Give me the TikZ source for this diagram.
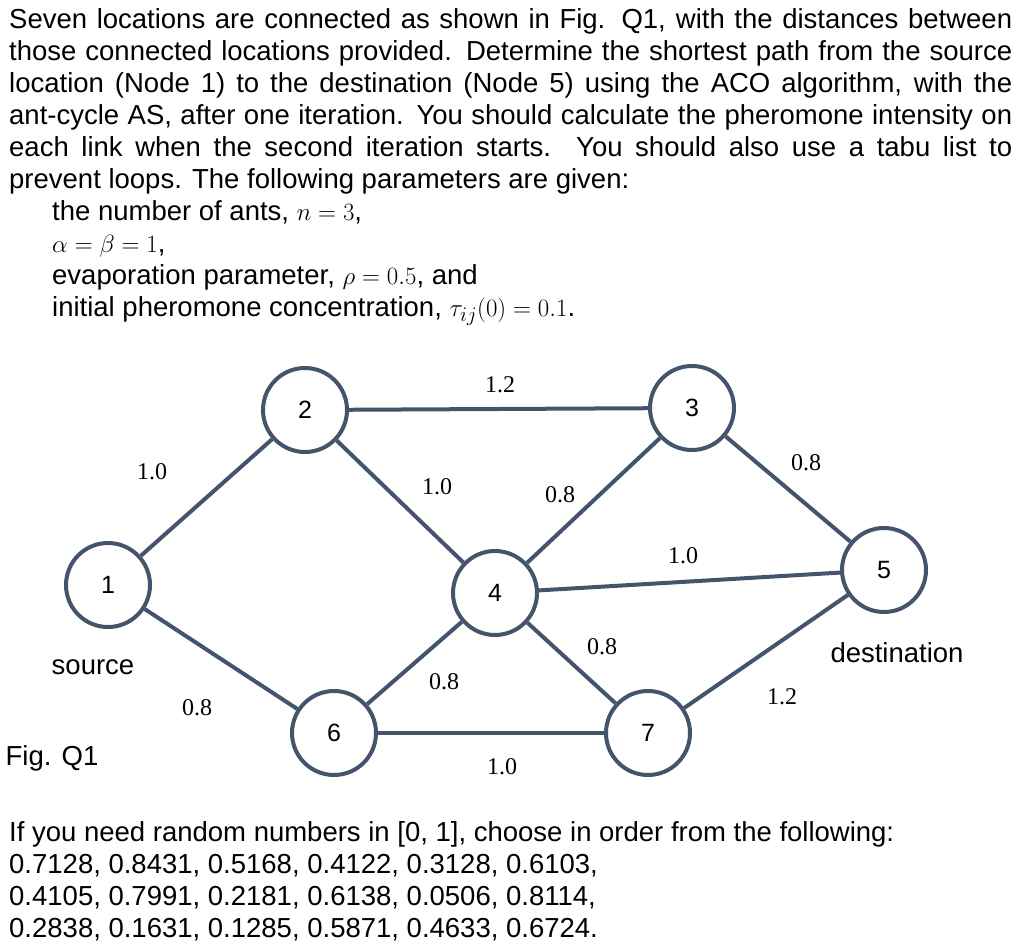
\documentclass[tikz,border=0pt]{standalone}
\usepackage{fontspec}
\setmainfont{Liberation Sans}
\newfontfamily\tnr{Liberation Serif}
\definecolor{edge}{HTML}{44546A}
\begin{document}
\begin{tikzpicture}[x=1pt,y=1pt,
  nd/.style={circle,draw=edge,line width=4pt,minimum size=84pt,inner sep=0pt,fill=white,font=\fontsize{25}{28}\selectfont},
  ln/.style={draw=edge,line width=4pt},
  lab/.style={font=\tnr\fontsize{24}{28}\selectfont,inner sep=0pt},
  txt/.style={font=\fontsize{27.5}{32}\selectfont,inner sep=0pt}]
\useasboundingbox (0,0) rectangle (1024,951);
\node[txt,anchor=north west,text width=1003pt,align=justify] (p) at (9,943) {Seven locations are connected as shown in Fig. Q1, with the distances between\linebreak those connected locations provided. Determine the shortest path from the source\linebreak location (Node 1) to the destination (Node 5) using the ACO algorithm, with the\linebreak ant-cycle AS, after one iteration. You should calculate the pheromone intensity on\linebreak each link when the second iteration starts. You should also use a tabu list to\linebreak prevent loops. The following parameters are given:};
\node[txt,anchor=north west,align=left] (q) at (52,751) {the number of ants, $n=3$,\\ $\alpha=\beta=1$,\\ evaporation parameter, $\rho=0.5$, and\\ initial pheromone concentration, $\tau_{ij}(0)=0.1$.};
\node[nd] (n1) at (108,366) {1};
\node[nd] (n2) at (305,541) {2};
\node[nd] (n3) at (692,543) {3};
\node[nd] (n4) at (495,358) {4};
\node[nd] (n5) at (884,381) {5};
\node[nd] (n6) at (334,218) {6};
\node[nd] (n7) at (648,218) {7};
\draw[ln] (n1) -- (n2);
\draw[ln] (n1) -- (n6);
\draw[ln] (n2) -- (n3);
\draw[ln] (n2) -- (n4);
\draw[ln] (n4) -- (n3);
\draw[ln] (n3) -- (n5);
\draw[ln] (n4) -- (n5);
\draw[ln] (n4) -- (n7);
\draw[ln] (n6) -- (n4);
\draw[ln] (n6) -- (n7);
\draw[ln] (n7) -- (n5);
\node[lab] (l12) at (500,566) {1.2};
\node[lab] (l21) at (152,479) {1.0};
\node[lab] (l24) at (437,464) {1.0};
\node[lab] (l43) at (560,456) {0.8};
\node[lab] (l35) at (806,488) {0.8};
\node[lab] (l45) at (683,395) {1.0};
\node[lab] (l47) at (602,304) {0.8};
\node[lab] (l64) at (444,269) {0.8};
\node[lab] (l16) at (197,243) {0.8};
\node[lab] (l67) at (502,184) {1.0};
\node[lab] (l75) at (782,254) {1.2};
\node[txt] (src) at (93,284) {source};
\node[txt] (dst) at (897,298) {destination};
\node[txt] (fig) at (52,193) {Fig. Q1};
\node[txt,anchor=north west,align=left] (r) at (9,130) {If you need random numbers in [0, 1], choose in order from the following:\\ 0.7128, 0.8431, 0.5168, 0.4122, 0.3128, 0.6103,\\ 0.4105, 0.7991, 0.2181, 0.6138, 0.0506, 0.8114,\\ 0.2838, 0.1631, 0.1285, 0.5871, 0.4633, 0.6724.};
\end{tikzpicture}
\end{document}
